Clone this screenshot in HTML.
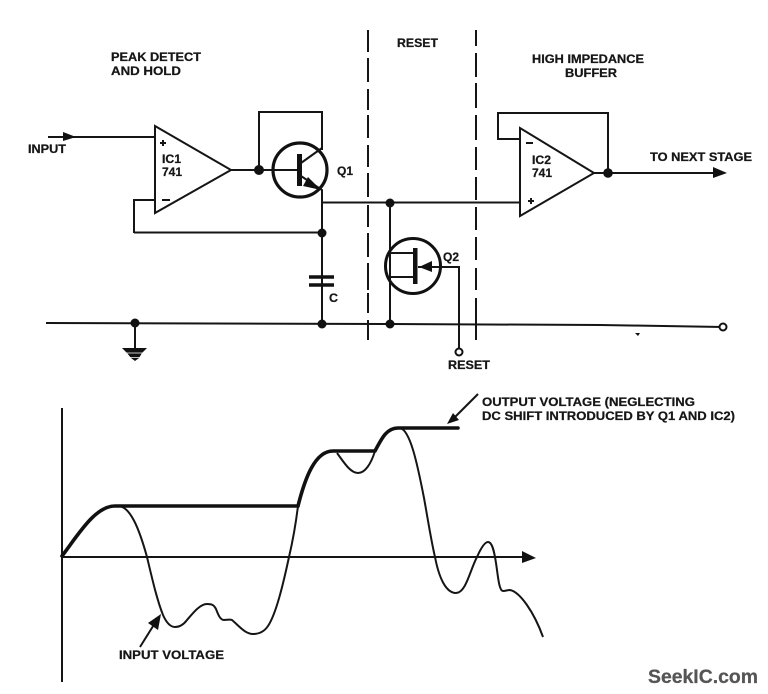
<!DOCTYPE html>
<html>
<head>
<meta charset="utf-8">
<style>
html,body{margin:0;padding:0;background:#fff;width:768px;height:694px;overflow:hidden}
svg{display:block;filter:blur(0.35px)}
text{font-family:"Liberation Sans",sans-serif;font-weight:bold;font-size:12.3px;fill:#161616;stroke:#161616;stroke-width:.25}
.w{fill:none;stroke:#151515;stroke-width:2}
.k{fill:#111;stroke:none}
.t{fill:none;stroke:#111;stroke-width:3.6;stroke-linecap:round;stroke-linejoin:round}
.c{fill:none;stroke:#151515;stroke-width:2}
</style>
</head>
<body>
<svg width="768" height="694" viewBox="0 0 768 694" xmlns="http://www.w3.org/2000/svg">
<rect width="768" height="694" fill="#fff"/>

<!-- section dividers -->
<path class="w" d="M368 30V52M368 58V82M368 89V110M368 115V138M368 145V167M368 173V197M368 205V227M368 233V257M368 263V290M368 293V313M368 320V340"/>
<path class="w" d="M476 30V46M476 53V77M476 83V108M476 115V140M476 147V170M476 177V200M476 207V230M476 237V260M476 268V290M476 298V340"/>

<!-- IC1 -->
<path class="w" d="M155 126V213L231 170Z"/>
<path class="w" d="M48 137H155"/>
<path class="k" d="M63 132L76 137L63 141Z"/>
<path class="w" d="M231 170H300"/>
<circle class="k" cx="259" cy="170" r="5"/>
<path class="w" d="M259 170V112H322V150"/>
<path class="w" d="M134 233V200H155"/>
<path class="w" d="M134 232.500H322"/>

<!-- Q1 -->
<circle cx="300" cy="170" r="27" fill="none" stroke="#111" stroke-width="3.200"/>
<rect class="k" x="297" y="154" width="5" height="32"/>
<path class="w" d="M301 163L322 148"/>
<path class="w" d="M301 176L322 190V324"/>
<path class="k" d="M321 190L308 177L303 186Z"/>
<path class="w" d="M322 202.500H520"/>
<circle class="k" cx="322" cy="233" r="4.500"/>

<!-- capacitor -->
<path d="M309 277H334M309 285H334" fill="none" stroke="#111" stroke-width="3.400"/>

<!-- ground rail -->
<path class="w" d="M46 323L390 324L600 325L723 327"/>
<circle class="k" cx="135" cy="323" r="4.500"/>
<circle class="k" cx="322" cy="324" r="4.500"/>
<circle class="k" cx="390" cy="324" r="4.500"/>
<path class="w" d="M135 323V349"/>
<path class="k" d="M122 348H147L142 353L139 358L135 361L131 358L127 353Z"/>
<path d="M126 353H144M130 357.500H140" fill="none" stroke="#fff" stroke-width=".7"/>
<circle cx="723" cy="327" r="3.500" fill="#fff" stroke="#111" stroke-width="2"/>
<path class="k" d="M635 333H640L638 336Z"/>

<!-- Q2 -->
<circle class="k" cx="390" cy="203" r="4.500"/>
<path class="w" d="M390 203V324"/>
<circle cx="413" cy="266" r="27.500" fill="none" stroke="#111" stroke-width="3"/>
<rect class="k" x="413" y="248" width="4.500" height="36"/>
<path class="w" d="M390 253H415M390 277H415"/>
<path class="w" d="M418 267H459V348"/>
<path class="k" d="M419 267L432 261V272Z"/>
<circle cx="459" cy="352" r="3.500" fill="#fff" stroke="#111" stroke-width="2"/>

<!-- IC2 -->
<path class="w" d="M520 128V216L594 173Z"/>
<path class="w" d="M594 173H714"/>
<path class="k" d="M713 167L727 173L713 178Z"/>
<circle class="k" cx="608" cy="173" r="4.800"/>
<path class="w" d="M608 173V113H498V139H520"/>

<!-- op-amp marks -->
<path class="w" d="M160 143H166M163 140V146"/>
<path class="w" d="M162 200H170"/>
<path class="w" d="M526 143H533"/>
<path class="w" d="M528 201H534M531 198V204"/>

<!-- graph axes -->
<path class="c" d="M62 408V682"/>
<path class="c" d="M62 557H525"/>
<path class="k" d="M522 551L536 558L522 563Z"/>

<!-- input voltage (thin) -->
<path class="c" d="M118 506C130 506 139 528 147 557C152 578 157 600 163 615C167 624 171 627 175 627C180 627 184 624 187 620C193 613 200 604 207 604C212 604 214 605 216 609C218 614 220 620 224 620C227 620 230 619 232 620C238 625 245 634 253 634C259 634 264 632 268 626C276 614 283 585 289 557C293 540 296 522 298 506"/>
<path class="c" d="M337 453C343 461 350 473 358 473C365 473 371 464 375 451"/>
<path class="c" d="M400 428C410 430 417 462 424 498C428 520 431 540 435 557C439 578 446 593 456 593C466 593 470 570 477 557C481 548 485 542 488 542C492 542 494 550 496 563C498 576 499 591 503 591C506 591 507 590 510 590C520 592 534 612 543 637"/>

<!-- output voltage (thick) -->
<path class="t" d="M62 556C78 535 95 506 115 506H298"/>
<path class="t" d="M298 506C305 478 315 451 333 451H375C381 440 386 428 398 428H458"/>

<!-- graph arrows -->
<path class="c" d="M478 394L452 420"/>
<path class="k" d="M447 424L453 413L459 420Z"/>
<path class="c" d="M140 647L155 623"/>
<path class="k" d="M161 614L148 623L158 630Z"/>

<!-- labels -->
<text x="111" y="61" textLength="90" lengthAdjust="spacingAndGlyphs">PEAK DETECT</text>
<text x="111" y="75" textLength="70" lengthAdjust="spacingAndGlyphs">AND HOLD</text>
<text x="397" y="47" textLength="41" lengthAdjust="spacingAndGlyphs">RESET</text>
<text x="532" y="63" textLength="112" lengthAdjust="spacingAndGlyphs">HIGH IMPEDANCE</text>
<text x="565" y="77" textLength="52" lengthAdjust="spacingAndGlyphs">BUFFER</text>
<text x="28" y="153" textLength="38" lengthAdjust="spacingAndGlyphs">INPUT</text>
<text x="162" y="163" textLength="19" lengthAdjust="spacingAndGlyphs">IC1</text>
<text x="162" y="176" textLength="20" lengthAdjust="spacingAndGlyphs">741</text>
<text x="337" y="175" textLength="16" lengthAdjust="spacingAndGlyphs">Q1</text>
<text x="329" y="302" textLength="9" lengthAdjust="spacingAndGlyphs">C</text>
<text x="532" y="164" textLength="19" lengthAdjust="spacingAndGlyphs">IC2</text>
<text x="532" y="177" textLength="20" lengthAdjust="spacingAndGlyphs">741</text>
<text x="650" y="161" textLength="102" lengthAdjust="spacingAndGlyphs">TO NEXT STAGE</text>
<text x="443" y="261" textLength="16" lengthAdjust="spacingAndGlyphs">Q2</text>
<text x="448" y="369" textLength="42" lengthAdjust="spacingAndGlyphs">RESET</text>
<text x="482" y="406" textLength="213" lengthAdjust="spacingAndGlyphs">OUTPUT VOLTAGE (NEGLECTING</text>
<text x="482" y="420" textLength="253" lengthAdjust="spacingAndGlyphs">DC SHIFT INTRODUCED BY Q1 AND IC2)</text>
<text x="119" y="659" textLength="105" lengthAdjust="spacingAndGlyphs">INPUT VOLTAGE</text>
<text x="648" y="683" textLength="110" lengthAdjust="spacingAndGlyphs" style="font-size:19px;fill:#555;stroke:#555">SeekIC.com</text>
</svg>
</body>
</html>
